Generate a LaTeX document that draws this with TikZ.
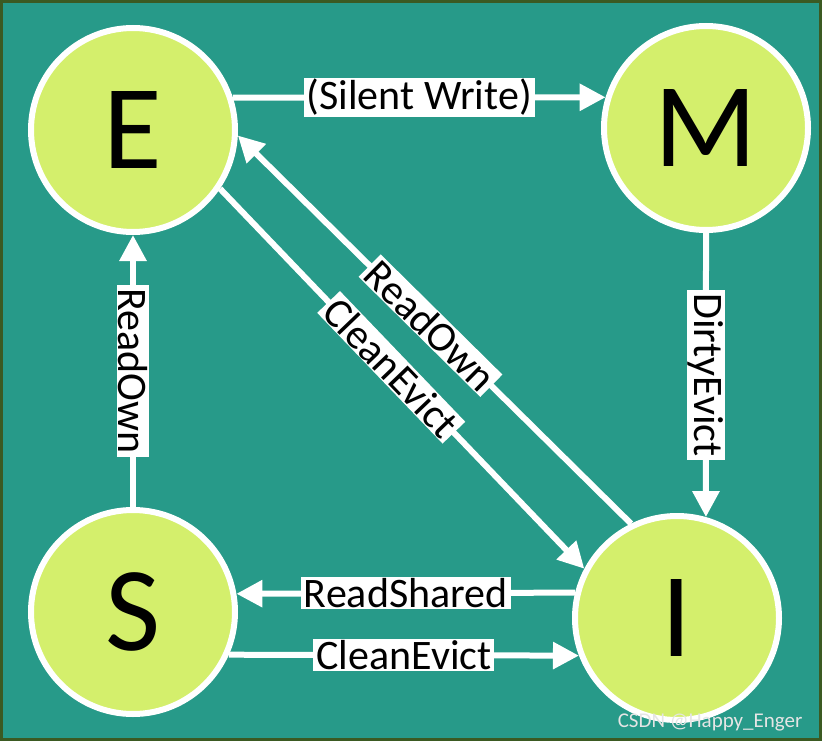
\documentclass[tikz,border=0pt]{standalone}
\usepackage{fontspec}
\setmainfont{Carlito}
\usetikzlibrary{arrows.meta}
\definecolor{bg}{HTML}{279A89}
\definecolor{st}{HTML}{D4EF6C}
\definecolor{fr}{HTML}{3B5A22}
\begin{document}
\begin{tikzpicture}[x=1pt,y=-1pt,
  state/.style={circle,draw=white,line width=6pt,fill=st,minimum size=204pt,inner sep=0pt,font=\fontsize{120}{120}\selectfont},
  arr/.style={draw=white,line width=6pt,-{Triangle[length=26pt,width=26pt]}},
  lab/.style={fill=white,inner xsep=3pt,inner ysep=1pt,font=\fontsize{42}{44}\selectfont}]
\fill[fr] (0,0) rectangle (822,741);
\fill[bg] (3,3) rectangle (819,738);
\useasboundingbox (0,0) rectangle (822,741);
\node[state] (E) at (133,130) {E};
\node[state] (M) at (706,128) {M};
\node[state] (S) at (133,612) {S};
\node[state] (I) at (677,618) {I};
\draw[arr] (E.18) -- node[lab]{(Silent Write)} (M.163);
\draw[arr] (M.south) -- node[lab,rotate=-90]{DirtyEvict} (I.74);
\draw[arr] (S.north) -- node[lab,rotate=-90]{ReadOwn} (E.south);
\draw[arr] (I.166) -- node[lab]{ReadShared} (S.10);
\draw[arr] (S.-24) -- node[lab]{CleanEvict} (I.201);
\draw[arr] (I.116) -- node[lab,sloped,pos=0.51]{ReadOwn} (E.-3);
\draw[arr] (E.-34) -- node[lab,sloped,pos=0.47]{CleanEvict} (I.152);
\node[text=white!80!gray,font=\fontsize{21}{21}\selectfont,anchor=east] (wm) at (806,722) {CSDN @Happy\_Enger};
\end{tikzpicture}
\end{document}
